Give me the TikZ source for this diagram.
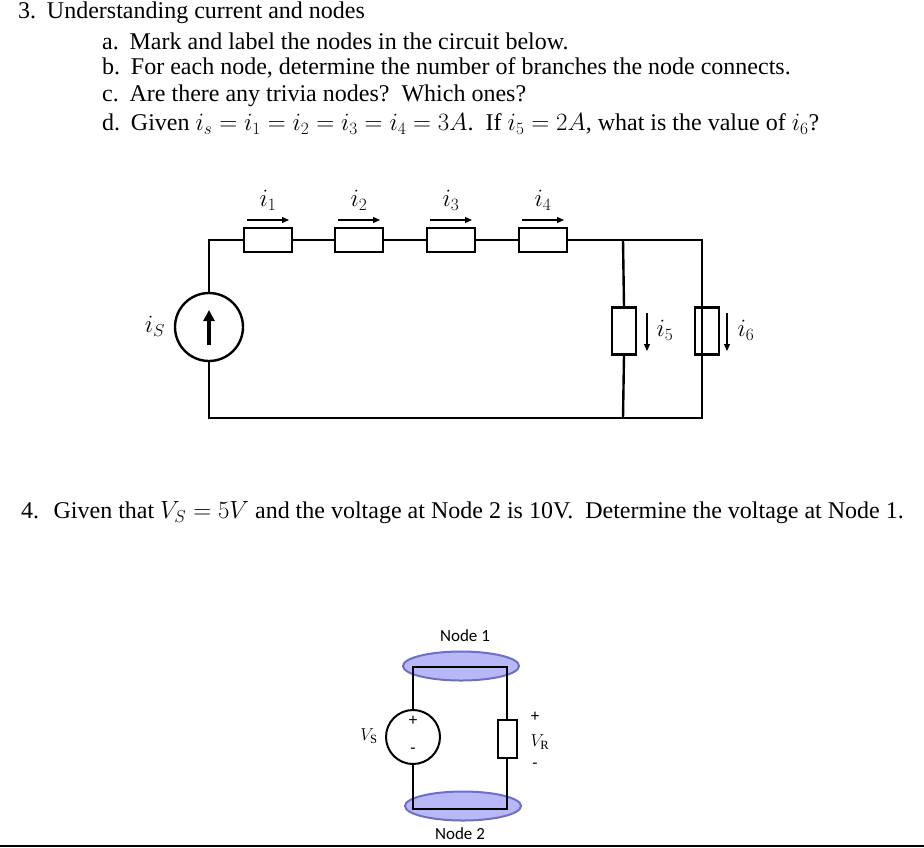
\documentclass[tikz,border=0pt]{standalone}
\usepackage{fontspec}
\setmainfont{Liberation Serif}
\newfontfamily\sansf{Carlito}
\usetikzlibrary{arrows.meta,shapes.geometric}
\definecolor{nodefill}{RGB}{160,160,245}
\definecolor{nodeedge}{RGB}{110,110,200}
\begin{document}
\begin{tikzpicture}[x=1pt,y=-1pt,line width=2.4pt,
  txt/.style={anchor=west,inner sep=0pt,font=\fontsize{24}{28}\selectfont},
  res/.style={draw,line width=2.4pt,fill=white,minimum width=48pt,minimum height=24pt,inner sep=0pt},
  vres/.style={draw,line width=2.4pt,fill=white,minimum width=24pt,minimum height=47pt,inner sep=0pt},
  lbl/.style={inner sep=0pt,font=\fontsize{24}{26}\selectfont},
  carr/.style={line width=1.2pt,-{Triangle[length=7pt,width=6pt]}},
  nd/.style={ellipse,draw=nodeedge,fill=nodefill,fill opacity=0.75,line width=2pt,minimum width=116pt,minimum height=29pt},
  sl/.style={inner sep=0pt,font=\sansf\fontsize{17}{19}\selectfont}]
\useasboundingbox (0,0) rectangle (924,847);
% text
\node[txt] (t3) at (17,13) {3.\hspace{0.45em}Understanding current and nodes};
\node[txt] (ta) at (101,41) {a.\hspace{0.45em}Mark and label the nodes in the circuit below.};
\node[txt] (tb) at (101,68) {b.\hspace{0.45em}For each node, determine the number of branches the node connects.};
\node[txt] (tc) at (101,96) {c.\hspace{0.45em}Are there any trivia nodes?\ \ Which ones?};
\node[txt] (td) at (101,124) {d.\hspace{0.45em}Given $i_s=i_1=i_2=i_3=i_4=3A$.\ \ If $i_5=2A$, what is the value of $i_6$?};
\node[txt] (t4) at (20,513) {4.\hspace{0.6em}Given that $V_S=5V$ and the voltage at Node 2 is 10V.\ \ Determine the voltage at Node 1.};
% top circuit
\coordinate (tl) at (209,240);
\coordinate (bl) at (209,418);
\coordinate (tr) at (702,240);
\coordinate (br) at (702,418);
\coordinate (tm) at (623,240);
\coordinate (bm) at (623,418);
\node[circle,draw,line width=2.4pt,minimum size=68pt,inner sep=0pt] (src) at (209,327) {};
\node[res] (r1) at (268,240) {};
\node[res] (r2) at (359,240) {};
\node[res] (r3) at (451,240) {};
\node[res] (r4) at (543,240) {};
\node[vres] (r5) at (624,331) {};
\node[vres] (r6) at (707,331) {};
\draw (src.north) -- (tl) -- (r1.west);
\draw (r1.east) -- (r2.west) (r2.east) -- (r3.west) (r3.east) -- (r4.west);
\draw (r4.east) -- (tr) -- (br) -- (bl) -- (src.south);
\draw (tm) -- (r5.north) (r5.south) -- (bm);
\draw[-{Triangle[length=11pt,width=11pt]},line width=4pt] (209,345) -- (209,310);
\node[lbl] (ls) at (155,326) {$i_S$};
\foreach \n/\x in {1/268,2/359,3/451,4/543}{
  \node[lbl] (l\n) at (\x,200) {$i_{\n}$};
  \draw[carr] (\x-21,220) -- (\x+21,220);
}
\draw[carr] (647,313) -- (647,351);
\node[lbl] (l5) at (665,330) {$i_5$};
\draw[carr] (727,313) -- (727,351);
\node[lbl] (l6) at (746,330) {$i_6$};
% bottom circuit
\node[nd] (n1) at (461,666) {};
\node[nd] (n2) at (463,806) {};
\coordinate (a1) at (413,667);
\coordinate (b1) at (507,667);
\coordinate (a2) at (413,809);
\coordinate (b2) at (507,809);
\node[circle,draw,line width=2pt,minimum size=54pt,inner sep=0pt] (vs) at (413,737) {};
\node[draw,line width=2pt,fill=white,minimum width=19pt,minimum height=38pt,inner sep=0pt] (rr) at (507,739) {};
\draw[line width=2pt] (vs.north) -- (a1) -- (b1) -- (rr.north);
\draw[line width=2pt] (vs.south) -- (a2) -- (b2) -- (rr.south);
\node[sl] (pp) at (413,721) {+};
\node[sl] (mm) at (413,751) {-};
\node[lbl,font=\fontsize{18}{20}\selectfont] (lvs) at (369,736) {$V_{\mathrm{S}}$};
\node[sl] (rp) at (535,717) {+};
\node[lbl,font=\fontsize{18}{20}\selectfont] (lvr) at (540,742) {$V_{\mathrm{R}}$};
\node[sl] (rm) at (535,766) {-};
\node[sl] (nl1) at (465,636) {Node 1};
\node[sl] (nl2) at (460,834) {Node 2};
\draw[line width=1.5pt] (0,846) -- (924,846);
\end{tikzpicture}
\end{document}
